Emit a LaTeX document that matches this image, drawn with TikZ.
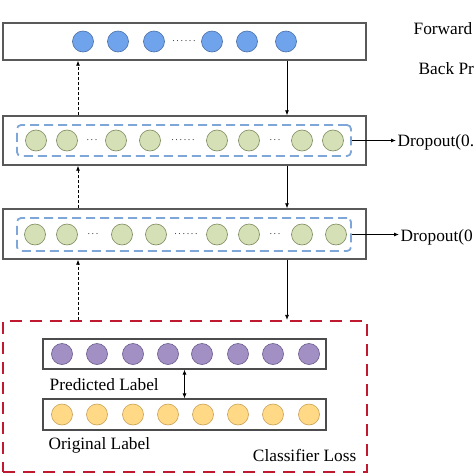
\documentclass[tikz,border=0pt]{standalone}
\usepackage{fontspec}
\setmainfont{Liberation Serif}
\usepackage{tikz}
\usetikzlibrary{arrows.meta, positioning, shapes.geometric}
\usepackage{xcolor}
\definecolor{neuBlue}{HTML}{6FA3EC}
\definecolor{neuBlueEdge}{HTML}{4A6FA8}
\definecolor{neuGreen}{HTML}{D5E0B6}
\definecolor{neuGreenEdge}{HTML}{7D8A5E}
\definecolor{neuPurple}{HTML}{A290C4}
\definecolor{neuPurpleEdge}{HTML}{6A5B8C}
\definecolor{neuYellow}{HTML}{FFD985}
\definecolor{neuYellowEdge}{HTML}{C9A257}
\definecolor{dropBlue}{HTML}{7EA6D8}
\definecolor{lossRed}{HTML}{C0182E}

\begin{document}
\begin{tikzpicture}[x=1pt, y=-1pt,
    layerBox/.style={draw=black!65, line width=1.4pt, fill=white, minimum width=363pt, inner sep=0pt},
    labelBox/.style={draw=black!70, line width=1.1pt, fill=white, minimum width=283pt, inner sep=0pt},
    dropBox/.style={draw=dropBlue, line width=1.8pt, dash pattern=on 9pt off 5pt, rounded corners=4pt, minimum width=334pt, inner sep=0pt},
    lossBox/.style={draw=lossRed, line width=2.2pt, dash pattern=on 12pt off 8pt, minimum width=364pt, minimum height=151pt, inner sep=0pt},
    neuron/.style={circle, line width=0.6pt, minimum size=21pt, inner sep=0pt},
    blueNeuron/.style={neuron, fill=neuBlue, draw=neuBlueEdge},
    greenNeuron/.style={neuron, fill=neuGreen, draw=neuGreenEdge},
    purpleNeuron/.style={neuron, fill=neuPurple, draw=neuPurpleEdge},
    yellowNeuron/.style={neuron, fill=neuYellow, draw=neuYellowEdge},
    dotText/.style={font=\fontsize{10}{10}\selectfont, text=black!75, inner sep=0pt},
    labelText/.style={font=\fontsize{17.3}{20}\selectfont, inner sep=1.5pt},
    fwdRel/.style={-{Latex[length=5pt, width=4pt]}, line width=0.8pt, black},
    backRel/.style={-{Latex[length=5pt, width=4pt]}, line width=0.8pt, black, dash pattern=on 3pt off 2pt},
    bothRel/.style={{Latex[length=5pt, width=4pt]}-{Latex[length=5pt, width=4pt]}, line width=0.8pt, black}
]
    \useasboundingbox (0,0) rectangle (474,474);

    % Output Layer
    \node[layerBox, minimum height=37pt] (outBox) at (184.5,41.5) {};
    \foreach \xx [count=\i] in {83,118,154,212,247,286}
        \node[blueNeuron] (out\i) at (\xx,41.5) {};
    \node[dotText] (outDots) at (184,41.5) {.\,.\,.\,.\,.\,.};

    % Hidden Layer 1
    \node[layerBox, minimum height=49pt] (h1Box) at (184.5,140.5) {};
    \node[dropBox, minimum height=31pt] (drop1) at (184,140.5) {};
    \foreach \xx [count=\i] in {36,67,116,150,217,249,302,333}
        \node[greenNeuron] (h1n\i) at (\xx,140.5) {};
    \node[dotText] (h1DotsA) at (92,140.5) {.\,.\,.};
    \node[dotText] (h1DotsB) at (183,140.5) {.\,.\,.\,.\,.\,.};
    \node[dotText] (h1DotsC) at (275,140.5) {.\,.\,.};

    % Hidden Layer 2
    \node[layerBox, minimum height=50pt] (h2Box) at (184.5,234) {};
    \node[dropBox, minimum height=33pt] (drop2) at (184,234.5) {};
    \foreach \xx [count=\i] in {35,67,122,156,217,249,302,336}
        \node[greenNeuron] (h2n\i) at (\xx,234.5) {};
    \node[dotText] (h2DotsA) at (93,234.5) {.\,.\,.};
    \node[dotText] (h2DotsB) at (186,234.5) {.\,.\,.\,.\,.\,.};
    \node[dotText] (h2DotsC) at (275,234.5) {.\,.\,.};

    % Classifier Loss
    \node[lossBox] (lossBox) at (185,396.5) {};
    \node[labelBox, minimum height=30pt] (predBox) at (184.5,354) {};
    \foreach \xx [count=\i] in {62,97,133,168,202,238,273,309}
        \node[purpleNeuron] (pred\i) at (\xx,354) {};
    \node[labelBox, minimum height=31pt] (origBox) at (184.5,414.5) {};
    \foreach \xx [count=\i] in {62,97,133,168,203,238,273,309}
        \node[yellowNeuron] (orig\i) at (\xx,414.5) {};

    % Labels
    \node[labelText, anchor=west] (predTxt) at (48,385) {Predicted Label};
    \node[labelText, anchor=west] (origTxt) at (47,445) {Original Label};
    \node[labelText, anchor=east] (lossTxt) at (358,455) {Classifier Loss};
    \node[labelText, anchor=east] (fwdTxt) at (474,29) {Forward};
    \node[labelText, anchor=west] (backTxt) at (417,69) {Back Pr};
    \node[labelText, anchor=west] (drop1Txt) at (396,142) {Dropout(0.};
    \node[labelText, anchor=west] (drop2Txt) at (399,237) {Dropout(0};

    % Propagation
    \coordinate (fwdX) at (287,0);
    \coordinate (backX) at (78,0);
    \draw[fwdRel] (outBox.south -| fwdX) -- (h1Box.north -| fwdX);
    \draw[fwdRel] (h1Box.south -| fwdX) -- (h2Box.north -| fwdX);
    \draw[fwdRel] (h2Box.south -| fwdX) -- (lossBox.north -| fwdX);
    \draw[backRel] (h1Box.north -| backX) -- (outBox.south -| backX);
    \draw[backRel] (h2Box.north -| backX) -- (h1Box.south -| backX);
    \draw[backRel] (lossBox.north -| backX) -- (h2Box.south -| backX);

    \draw[fwdRel] (drop1.east) -- (drop1Txt.west |- drop1.east);
    \draw[fwdRel] (drop2.east) -- (drop2Txt.west |- drop2.east);
    \draw[bothRel] (predBox.south) -- (origBox.north);
\end{tikzpicture}
\end{document}
